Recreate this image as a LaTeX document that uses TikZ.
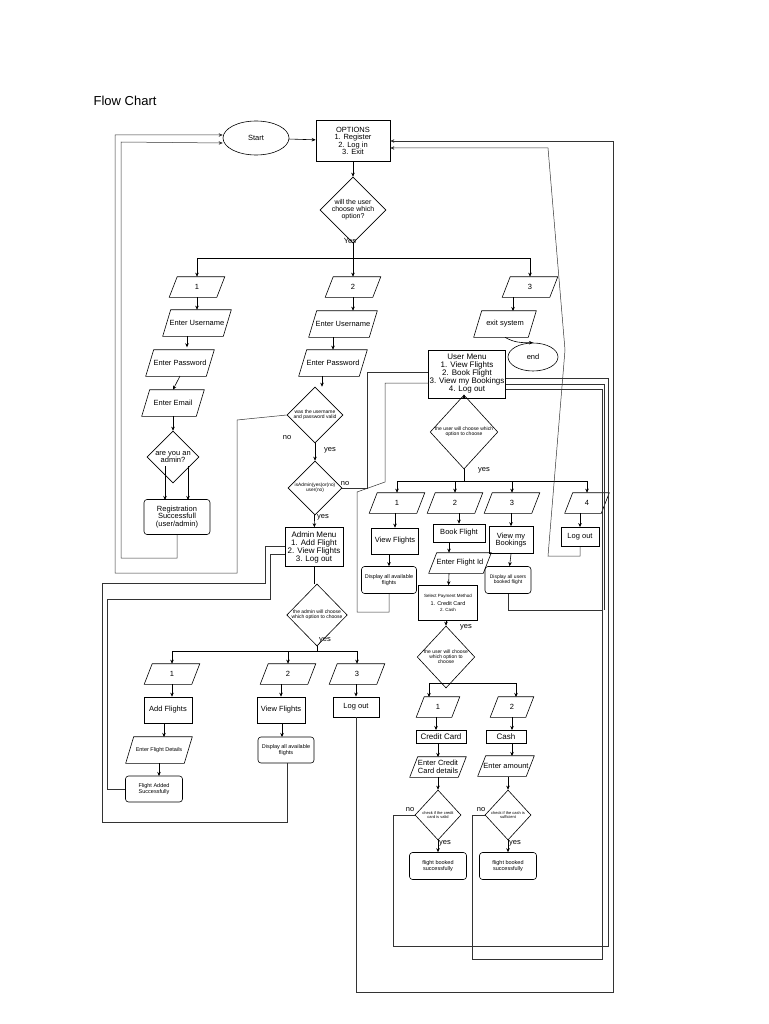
\documentclass[tikz,border=0pt]{standalone}
\usepackage{fontspec}
\setmainfont{Liberation Sans}
\usetikzlibrary{shapes.geometric,arrows.meta,calc}
\newcommand\pg[6]{\node[pgn,minimum width=#4,minimum height=#5] (#1) at (#2,#3) {#6};
 \draw ($(#1.north west)+(8,0)$) -- (#1.north east) -- ($(#1.south east)-(8,0)$) -- (#1.south west) -- cycle;}
\newcommand\fs[1]{\fontsize{#1}{#1}\selectfont}
\begin{document}
\begin{tikzpicture}[x=1pt,y=-1pt,line width=0.6pt,
 pgn/.style={inner sep=0pt,align=center,font=\fs{7.5}},
 box/.style={draw,rectangle,inner sep=1pt,align=center,font=\fs{7.5}},
 rbox/.style={draw,rectangle,rounded corners=3pt,inner sep=1pt,align=center,font=\fs{6.5}},
 dia/.style={draw,diamond,aspect=1,inner sep=0pt,align=center,font=\fs{5}},
 ell/.style={draw,ellipse,inner sep=0pt,font=\fs{7.5}},
 ar/.style={-{Stealth[length=4pt,width=3.5pt]}},
 lbl/.style={font=\fs{7.5},inner sep=0pt},
 lp/.style={line width=0.5pt,draw=black!80}]
\useasboundingbox[fill=white] (0,0) rectangle (768,1024);
\node[anchor=west,font=\fs{13}] (title) at (90,101) {Flow Chart};
% top
\node[ell,minimum width=66,minimum height=34] (start) at (256,138) {Start};
\node[box,minimum width=74,minimum height=41,font=\fs{7.5}] (opt) at (353,141) {OPTIONS\\1. Register\\2. Log in\\3. Exit};
\node[dia,minimum width=66,minimum height=66,font=\fs{7}] (d1) at (353,210) {will the user\\choose which\\option?};
\node[lbl] (yes1) at (350,241) {Yes};
\coordinate (b1) at (353,258);
\draw[ar] (start) -- (opt);
\draw[ar] (opt) -- (d1);
\draw (d1) -- (b1);
\pg{p1}{197}{287}{55}{20}{1}
\pg{p2}{353}{287}{55}{20}{2}
\pg{p3}{530}{287}{55}{20}{3}
\draw[ar] (b1) -| (p1.north);
\draw[ar] (b1) -- (p2.north);
\draw[ar] (b1) -| (p3.north);
% left column
\pg{lu}{197}{323}{68}{26}{Enter Username}
\pg{lpw}{180}{363}{68}{26}{Enter Password}
\pg{le}{173}{403}{62}{26}{Enter Email}
\node[dia,minimum width=52,minimum height=52,font=\fs{7.5}] (adm) at (173,457) {are you an\\admin?};
\node[rbox,minimum width=66,minimum height=35,font=\fs{7.5}] (reg) at (177,517) {Registration\\Successfull\\(user/admin)};
\draw[ar] (p1) -- (lu);
\draw[ar] (lu.south) ++(-10,0) -- ++(0,11);
\draw[ar] (180,376) -- (le.north-|173,0);
\draw[ar] (173,416) -- (adm.north);
\draw[ar] (165,466) -- (165,500);
\draw[ar] (188,466) -- (188,500);
% middle column
\pg{mu}{343}{324}{68}{26}{Enter Username}
\pg{mpw}{333}{363}{68}{26}{Enter Password}
\node[dia,minimum width=56,minimum height=56] (val) at (315,415) {was the username\\and password valid};
\node[lbl] (no1) at (287,438) {no};
\node[lbl] (yes2) at (330,450) {yes};
\node[dia,minimum width=54,minimum height=54,font=\fs{4.8}] (isadm) at (315,488) {isAdmin(yes)or(no)\\user(no)};
\node[lbl] (no2) at (345,484) {no};
\node[lbl] (yes3) at (323,517) {yes};
\node[box,minimum width=58,minimum height=39,font=\fs{8}] (amenu) at (314,547) {Admin Menu\\1. Add Flight\\2. View Flights\\3. Log out};
\draw[ar] (p2) -- (p2|-mu.north);
\draw[ar] (333,337) -- (mpw.north);
\draw[ar] (322,376) -- (val.north-|322,0);
\draw[ar] (val) -- (isadm);
\draw[ar] (isadm) -- (amenu);
\node[dia,minimum width=54,minimum height=62] (ad) at (317,615) {the admin will choose\\which option to choose};
\node[lbl] (yes4) at (325,640) {yes};
\draw (amenu.south-|314,0) -- (ad.north-|314,0);
\coordinate (b2) at (317,651);
\draw (ad) -- (b2);
\pg{a1}{172}{674}{55}{20}{1}
\pg{a2}{288}{674}{55}{20}{2}
\pg{a3}{357}{674}{55}{20}{3}
\draw[ar] (b2) -| (a1.north);
\draw[ar] (b2) -| (a2.north);
\draw[ar] (b2) -| (a3.north);
\node[box,minimum width=48,minimum height=26] (addf) at (168,710) {Add Flights};
\node[box,minimum width=48,minimum height=26] (viewf) at (281,710) {View Flights};
\node[box,minimum width=46,minimum height=20,line width=0.9pt] (lo1) at (356,707) {Log out};
\draw[ar] (a1) -- (a1|-addf.north);
\draw[ar] (a2.south-|281,0) -- (viewf);
\draw[ar] (a3.south-|356,0) -- (lo1);
\pg{efd}{159}{750}{66}{26}{\fs{5.5}Enter Flight Details}
\node[rbox,minimum width=57,minimum height=26,font=\fs{5.5}] (fas) at (154,789) {Flight Added\\Successfully};
\node[rbox,minimum width=56,minimum height=26,font=\fs{5.5}] (dav) at (286,750) {Display all available\\flights};
\draw[ar] (164,723) -- (164,737);
\draw[ar] (159,763) -- (159,776);
\draw[ar] (282,723) -- (282,737);
% exit
\pg{ex}{505}{324}{62}{26}{exit system}
\node[ell,minimum width=50,minimum height=28] (endn) at (533,357) {end};
\draw[ar] (p3.south-|513,0) -- (513,311);
\draw[ar] (ex.south) to[out=-30,in=180] (endn.north);
% user menu
\node[box,minimum width=69,minimum height=48,font=\fs{8}] (umenu) at (467,374) {User Menu\\1. View Flights\\2. Book Flight\\3. View my Bookings\\4. Log out};
\node[dia,minimum width=66,minimum height=74] (ud) at (464,432) {the user will choose which\\option to choose};
\node[lbl] (yes5) at (484,470) {yes};
\draw[ar] (umenu.south-|464,0) -- (ud.north);
\coordinate (b3) at (464,481);
\draw (ud) -- (b3);
\pg{u1}{397}{503}{55}{20}{1}
\pg{u2}{455}{503}{55}{20}{2}
\pg{u3}{512}{503}{55}{20}{3}
\pg{u4}{587}{503}{44}{20}{4}
\draw[ar] (b3) -| (u1.north);
\draw[ar] (455,481) -- (u2.north);
\draw[ar] (b3) -| (u3.north);
\draw[ar] (b3) -| (u4.north);
\node[box,minimum width=47,minimum height=26] (uvf) at (395,541) {View Flights};
\node[box,minimum width=52,minimum height=18] (bf) at (459,533) {Book Flight};
\node[box,minimum width=44,minimum height=27] (vmb) at (511,540) {View my\\Bookings};
\node[box,minimum width=38,minimum height=19,line width=0.9pt] (lo2) at (580,537) {Log out};
\draw[ar] (u1.south-|395,0) -- (uvf);
\draw[ar] (u2.south-|459,0) -- (bf);
\draw[ar] (u3.south-|511,0) -- (vmb);
\draw[ar] (u4.south-|580,0) -- (lo2);
\node[rbox,minimum width=55,minimum height=27,font=\fs{5.5}] (udav) at (389,580) {Display all available\\flights};
\pg{efi}{460}{563}{62}{20}{Enter Flight Id}
\node[box,minimum width=59,minimum height=35,font=\fs{4.5},line width=0.5pt] (spm) at (448,603) {Select Payment Method\\[2pt]\fs{5.5}1. Credit Card\\[2pt]2. Cash};
\node[rbox,minimum width=46,minimum height=27,font=\fs{5}] (dub) at (508,580) {Display all users\\booked flight};
\draw[ar] (uvf.south-|389,0) -- (udav);
\draw[ar] (bf.south-|449,0) -- (efi.north-|449,0);
\draw[ar] (efi.south-|449,0) -- (spm);
\draw[ar] (vmb.south-|511,0) -- (dub);
\node[lbl] (yes6) at (466,627) {yes};
\node[dia,minimum width=46,minimum height=62] (pd) at (446,657) {the user will choose\\which option to\\choose};
\draw[ar] (spm.south-|446,0) -- (pd);
\coordinate (b4) at (446,683);
\pg{c1}{438}{707}{43}{20}{1}
\pg{c2}{512}{707}{43}{20}{2}
\draw[ar] (b4) -| (429,697);
\draw[ar] (b4) -| (516,697);
\node[box,minimum width=50,minimum height=13,font=\fs{8}] (cc) at (441,737) {Credit Card};
\node[box,minimum width=40,minimum height=13,font=\fs{8}] (cash) at (506,737) {Cash};
\draw[ar] (436,717) -- (436,730);
\draw[ar] (512,717) -- (512,730);
\pg{ecc}{438}{767}{56}{20}{Enter Credit\\Card details}
\pg{eam}{506}{766}{56}{20}{Enter amount}
\draw[ar] (438,744) -- (438,757);
\draw[ar] (512,744) -- (512,756);
\node[dia,minimum width=46,minimum height=50,font=\fs{4}] (ccd) at (438,815) {check if the credit\\card is valid};
\node[dia,minimum width=46,minimum height=50,font=\fs{4}] (cad) at (508,815) {check if the cash is\\sufficient};
\draw[ar] (ecc.south) -- (ccd.north);
\draw[ar] (508,777) -- (cad.north);
\node[lbl] (no3) at (410,810) {no};
\node[lbl] (no4) at (481,810) {no};
\node[lbl] (yes7) at (445,843) {yes};
\node[lbl] (yes8) at (515,843) {yes};
\node[rbox,minimum width=57,minimum height=27,font=\fs{5.5}] (fb1) at (438,866) {flight booked\\successfully};
\node[rbox,minimum width=57,minimum height=27,font=\fs{5.5}] (fb2) at (508,866) {flight booked\\successfully};
\draw[ar] (ccd) -- (fb1);
\draw[ar] (cad) -- (fb2);
% loops
\draw[lp,ar] (val.west) -- (237,420) -- (237,573) -- (115,573) -- (115,135) -- (start.west|-0,135);
\draw[lp,ar] (reg.south) -- (177,558) -- (121,558) -- (121,142) -- ($(start.west)+(0,5)$);
\draw[lp] (amenu.west|-0,546) -- (265,546) -- (265,583) -- (102,583) -- (102,822) -- (287,822) -- (dav.south-|287,0);
\draw[lp] (amenu.west|-0,554) -- (270,554) -- (270,599) -- (107,599) -- (107,789) -- (fas.west);
\draw[lp] (isadm.east) -- (367,488) -- (367,372) -- (umenu.west|-0,372);
\draw[lp] (udav.south) -- (389,612) -- (357,612) -- (357,492) -- (385,482) -- (385,383) -- (umenu.west|-0,383);
\draw[lp] (dub.south) -- (508,610) -- (603,610);
\draw[lp] (ccd.west) -- (393,815) -- (393,946) -- (608,946) -- (608,378) -- (umenu.east|-0,378);
\draw[lp] (cad.west) -- (472,815) -- (472,959) -- (602,959) -- (602,389) -- (umenu.east|-0,389);
\draw[lp] (umenu.east|-0,384) -- (604,384) -- (604,610);
\draw[lp,ar] (lo1.south) -- (356,992) -- (613,992) -- (613,141) -- (opt.east);
\draw[lp,ar] (lo2.south) -- (580,556) -- (548,556) -- (565,350) -- (548,148) -- (opt.east|-0,148);
\end{tikzpicture}
\end{document}
